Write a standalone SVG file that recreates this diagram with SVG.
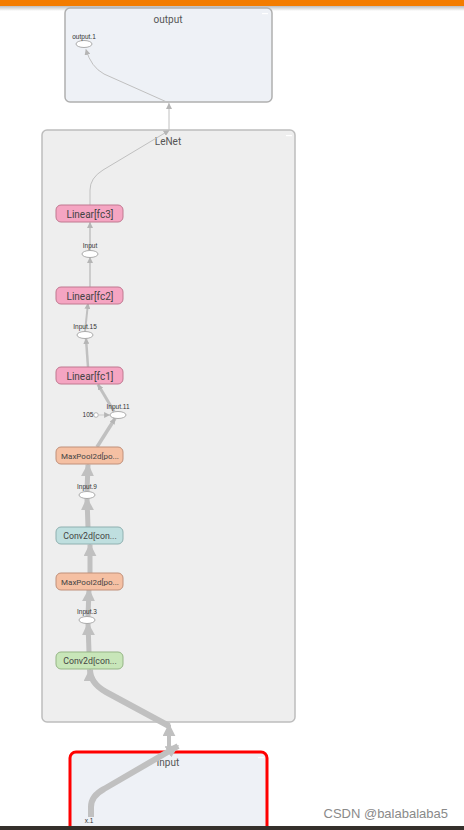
<svg xmlns="http://www.w3.org/2000/svg" width="464" height="830" viewBox="0 0 464 830">
<defs>
<linearGradient id="shadow" x1="0" y1="0" x2="0" y2="1"><stop offset="0" stop-color="#bdbdbd"/><stop offset="1" stop-color="#ffffff"/></linearGradient>
<marker id="as" viewBox="0 0 10 10" refX="9" refY="5" markerUnits="userSpaceOnUse" markerWidth="6" markerHeight="6" orient="auto"><path d="M0,0 L10,5 L0,10 z" fill="#b5b5b5"/></marker>
<marker id="al" viewBox="0 0 10 10" refX="9" refY="5" markerUnits="userSpaceOnUse" markerWidth="13" markerHeight="13" orient="auto"><path d="M0,0 L10,5 L0,10 z" fill="#c0c0c0"/></marker>
</defs>
<style>
.scope{fill:#eef1f6;stroke:#b0b0b0;stroke-width:1.5}
.meta{fill:#eeeeee;stroke:#bdbdbd;stroke-width:1.5}
.title{font-family:Roboto,"Liberation Sans",sans-serif;font-size:10px;fill:#555;text-anchor:middle}
.op{fill:#fff;stroke:#999;stroke-width:0.8}
.olbl{font-family:"Liberation Sans",Arial,sans-serif;font-size:6.5px;fill:#333;text-anchor:middle}
.nlbl{font-family:Roboto,"Liberation Sans",sans-serif;fill:#444;text-anchor:middle}
.e{fill:none;stroke:#c0c0c0;stroke-linecap:butt}
.lin{fill:#f5a5c2;stroke:#c07890;stroke-width:1}
.pool{fill:#f5c0a3;stroke:#c0907a;stroke-width:1}
.conv2{fill:#bfdfdf;stroke:#8fb0b0;stroke-width:1}
.conv1{fill:#c8e6b9;stroke:#95b585;stroke-width:1}
</style>
<rect x="0" y="0" width="464" height="6" fill="#f37c00"/>
<rect x="0" y="6" width="464" height="5" fill="url(#shadow)"/>

<g id="output">
<rect class="scope" x="65" y="8" width="207" height="94" rx="5"/>
<text class="title" x="168" y="23">output</text>
<rect x="262" y="13" width="6" height="1.2" fill="#fff"/>
</g>
<g id="output.1">
<ellipse class="op" cx="84" cy="44" rx="8" ry="3.5"/>
<text class="olbl" x="84" y="39">output.1</text>
</g>

<g id="LeNet">
<rect class="meta" x="42" y="130" width="253" height="592" rx="5"/>
<text class="title" x="168" y="145">LeNet</text>
<rect x="286" y="135" width="6" height="1.2" fill="#fff"/>
</g>

<g id="input">
<rect x="70" y="752" width="197" height="90" rx="6" fill="#eef1f6" stroke="#ff0000" stroke-width="3"/>
<text class="title" x="168" y="766">input</text>
<rect x="258" y="757" width="6" height="1.2" fill="#fff"/>
</g>

<g id="connectors">
<path class="e" d="M169,103 L104,74 Q91,67 86,49.5" stroke-width="1" marker-end="url(#as)"/>
<path class="e" d="M169,130 L169,103.5" stroke-width="1" marker-end="url(#as)"/>
<path class="e" d="M90,205 L90,190 Q90,178 103,170 L169,130.5" stroke-width="1" marker-end="url(#as)"/>
<path class="e" d="M90,250.5 L90,222.5" stroke-width="1.5" marker-end="url(#as)"/>
<path class="e" d="M90,287 L90,257.5" stroke-width="1.5" marker-end="url(#as)"/>
<path class="e" d="M85,331.5 L88,303.5" stroke-width="2" marker-end="url(#as)"/>
<path class="e" d="M88,367 L86,338.5" stroke-width="2.5" marker-end="url(#as)"/>
<path class="e" d="M114,411.5 L98,384.5" stroke-width="3" marker-end="url(#as)"/>
<path class="e" d="M97,447 L115,418.5" stroke-width="3.5" marker-end="url(#as)"/>
<path class="e" d="M99,415 L109.5,415" stroke-width="0.8" marker-end="url(#as)"/>
<path class="e" d="M87,491.5 L88,464.5" stroke-width="5" marker-end="url(#al)"/>
<path class="e" d="M88,527 L87,498.5" stroke-width="5" marker-end="url(#al)"/>
<path class="e" d="M90,573 L90,544.5" stroke-width="5" marker-end="url(#al)"/>
<path class="e" d="M88,616.5 L89,589.5" stroke-width="5" marker-end="url(#al)"/>
<path class="e" d="M89,652 L88,623.5" stroke-width="5" marker-end="url(#al)"/>
<path class="e" d="M169,726 L106,692 Q90,683 90,669.5" stroke-width="6" marker-end="url(#al)"/>
<path class="e" d="M169,752 L169,724.5" stroke-width="4" marker-end="url(#al)"/>
<path class="e" d="M91,817 L91,807 Q91,796 104,789 L178,746" stroke-width="6" marker-end="url(#al)"/>
</g>

<g id="x.1">
<text class="olbl" x="89" y="823">x.1</text>
</g>

<g id="Linear_fc3">
<rect class="lin" x="56" y="205" width="67" height="17" rx="5"/>
<text class="nlbl" x="90" y="217.5" font-size="10">Linear[fc3]</text>
</g>
<g id="Input">
<ellipse class="op" cx="90" cy="254" rx="8" ry="3.5"/>
<text class="olbl" x="90" y="248">Input</text>
</g>
<g id="Linear_fc2">
<rect class="lin" x="56" y="287" width="67" height="17" rx="5"/>
<text class="nlbl" x="90" y="299.5" font-size="10">Linear[fc2]</text>
</g>
<g id="Input.15">
<ellipse class="op" cx="85" cy="335" rx="8" ry="3.5"/>
<text class="olbl" x="85" y="329">Input.15</text>
</g>
<g id="Linear_fc1">
<rect class="lin" x="56" y="367" width="67" height="17" rx="5"/>
<text class="nlbl" x="90" y="379.5" font-size="10">Linear[fc1]</text>
</g>
<g id="Input.11">
<ellipse class="op" cx="118" cy="415" rx="8" ry="3.5"/>
<text class="olbl" x="118" y="409">Input.11</text>
</g>
<g id="const_105">
<circle cx="96" cy="415" r="2.3" fill="#fff" stroke="#999" stroke-width="0.7"/>
<text class="olbl" x="88" y="417.3" font-size="5.5">105</text>
</g>
<g id="MaxPool2d_1">
<rect class="pool" x="56" y="447" width="67" height="17" rx="5"/>
<text class="nlbl" x="90" y="458.5" font-size="8">MaxPool2d[po...</text>
</g>
<g id="Input.9">
<ellipse class="op" cx="87" cy="495" rx="8" ry="3.5"/>
<text class="olbl" x="87" y="489">Input.9</text>
</g>
<g id="Conv2d_2">
<rect class="conv2" x="56" y="527" width="67" height="17" rx="5"/>
<text class="nlbl" x="90" y="538.8" font-size="8.8">Conv2d[con...</text>
</g>
<g id="MaxPool2d_0">
<rect class="pool" x="56" y="573" width="67" height="17" rx="5"/>
<text class="nlbl" x="90" y="584.5" font-size="8">MaxPool2d[po...</text>
</g>
<g id="Input.3">
<ellipse class="op" cx="87" cy="620" rx="8" ry="3.5"/>
<text class="olbl" x="87" y="614">Input.3</text>
</g>
<g id="Conv2d_1">
<rect class="conv1" x="56" y="652" width="67" height="17" rx="5"/>
<text class="nlbl" x="90" y="663.8" font-size="8.8">Conv2d[con...</text>
</g>

<rect x="0" y="826" width="464" height="4" fill="#35302b"/>
<text x="448" y="818" font-family="'Liberation Sans',Arial,sans-serif" font-size="13" fill="#8a8a8a" text-anchor="end">CSDN @balabalaba5</text>
</svg>
